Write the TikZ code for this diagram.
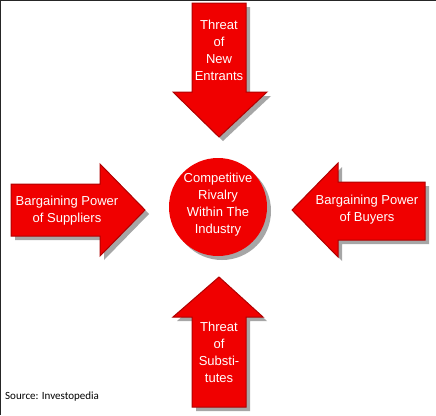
\documentclass[tikz,border=0pt]{standalone}
\usepackage{fontspec}
\setmainfont{Liberation Sans}
\newfontfamily\srcfont{Carlito}
\usepackage{xcolor}
\usepackage{tikz}
\usetikzlibrary{positioning,calc,shadings}
\definecolor{forcered}{HTML}{F00000}
\definecolor{edgered}{HTML}{B00000}
\definecolor{shadowgray}{HTML}{3A3A3A}
\pgfdeclareradialshading{rivalryshade}{\pgfpoint{0bp}{0bp}}{color(0bp)=(forcered); color(38bp)=(forcered); color(50bp)=(edgered)}

\begin{document}
\begin{tikzpicture}[x=1pt,y=-1pt, every node/.style={font=\fontsize{13}{17}\selectfont}]
\tikzset{
  forcebox/.style={fill=forcered,draw=edgered,line width=1pt,line join=miter},
  dropshade/.style={fill=shadowgray,opacity=0.45,draw=none},
  forcetext/.style={text=white,align=center,inner sep=0pt}
}
\useasboundingbox (0,0) rectangle (436,415);
\fill[white] (0,0) rectangle (436,415);
\draw[black!85,line width=1.5pt] (0,415) -- (0,0) -- (436,0);

% drop shadows
\begin{scope}[shift={(4,4)}]
\fill[dropshade] (192,3) -- (246,3) -- (246,92) -- (267,92) -- (219,137) -- (173,92) -- (192,92) -- cycle;
\fill[dropshade] (11,184) -- (100,184) -- (100,164) -- (145,210) -- (100,256) -- (100,236) -- (11,236) -- cycle;
\fill[dropshade] (292,210) -- (338,163) -- (338,182) -- (425,182) -- (425,240) -- (338,240) -- (338,257) -- cycle;
\fill[dropshade] (219,277) -- (263,317) -- (246,317) -- (246,407) -- (192,407) -- (192,317) -- (173,317) -- cycle;
\fill[dropshade] (218,207) circle (49);
\end{scope}

% the four forces
\draw[forcebox] (192,3) -- (246,3) -- (246,92) -- (267,92) -- (219,137) -- (173,92) -- (192,92) -- cycle;
\draw[forcebox] (11,184) -- (100,184) -- (100,164) -- (145,210) -- (100,256) -- (100,236) -- (11,236) -- cycle;
\draw[forcebox] (292,210) -- (338,163) -- (338,182) -- (425,182) -- (425,240) -- (338,240) -- (338,257) -- cycle;
\draw[forcebox] (219,277) -- (263,317) -- (246,317) -- (246,407) -- (192,407) -- (192,317) -- (173,317) -- cycle;

% rivalry in the middle
\shade[shading=rivalryshade] (218,207) circle (49);

\node[forcetext] (entrants) at (219,50) {Threat\\of\\New\\Entrants};
\node[forcetext] (suppliers) at (67,211) {Bargaining Power\\of Suppliers};
\node[forcetext] (buyers) at (367,210) {Bargaining Power\\of Buyers};
\node[forcetext] (substitutes) at (219,352) {Threat\\of\\Substi-\\tutes};
\node[forcetext] (rivalry) at (218,205) {Competitive\\Rivalry\\Within The\\Industry};

\node[anchor=west,inner sep=0pt,font=\srcfont\fontsize{11}{13}\selectfont] (source) at (5,397) {Source: Investopedia};
\end{tikzpicture}
\end{document}
